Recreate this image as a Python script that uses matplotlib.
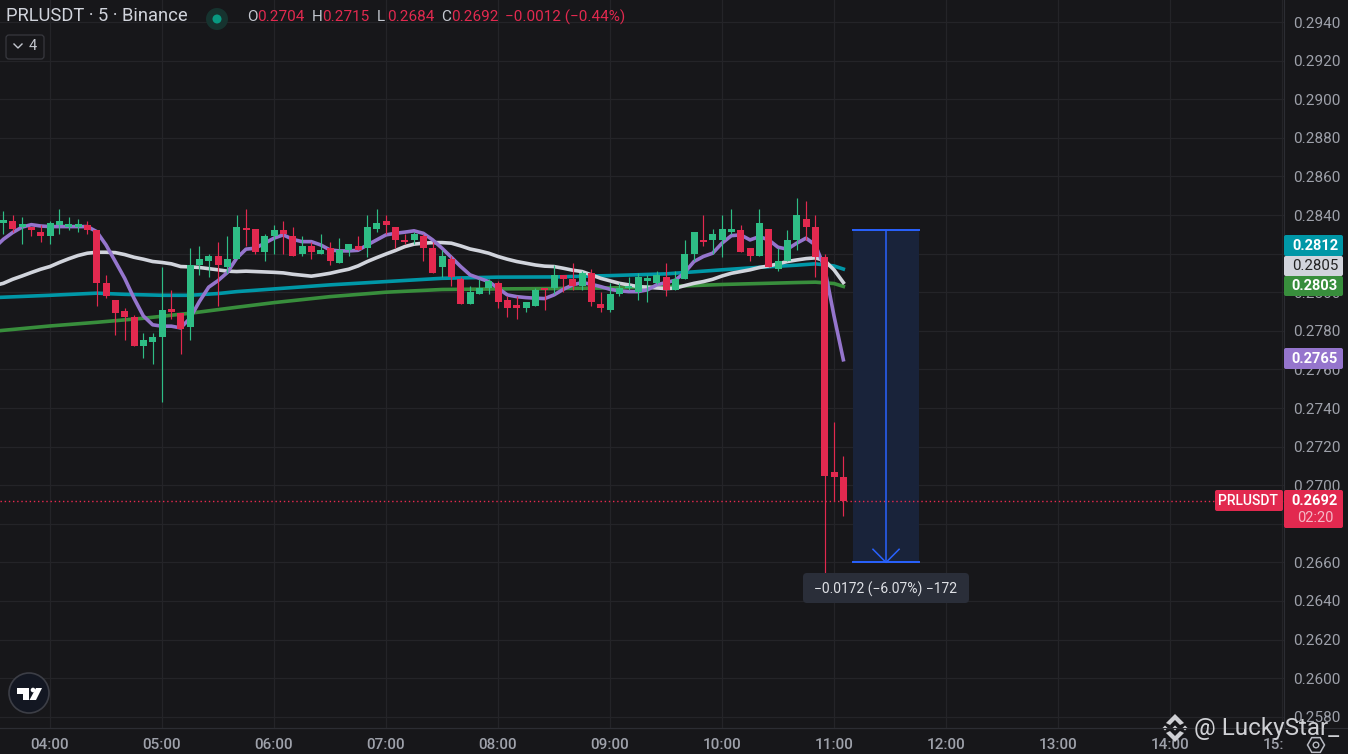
import matplotlib
matplotlib.use("Agg")
import matplotlib.pyplot as plt
from matplotlib.patches import Rectangle, FancyBboxPatch, Circle, Polygon, RegularPolygon
from matplotlib.transforms import Bbox

# 5 minute candles, index 0 is the 04:00 candle
first_idx = -5
opens = [.2836,.2837,.2834,.2834,.2831,.2829,.2835,.2834,.2834,.2835,.2832,.2805,.2796,.2790,.2787,.2772,.2774,.2777,.2791,.2789,
         .2782,.2814,.2816,.2819,.2813,.2817,.2833,.2833,.2821,.2829,.2832,.2829,.2820,.2824,.2820,.2823,.2815,.2822,.2824,.2823,
         .2833,.2837,.2834,.2827,.2827,.2829,.2823,.2813,.2817,.2807,.2794,.2799,.2802,.2805,.2796,.2793,.2792,.2793,.2802,.2802,
         .2809,.2807,.2803,.2810,.2794,.2791,.2799,.2802,.2800,.2806,.2805,.2808,.2801,.2807,.2820,.2827,.2827,.2827,.2831,.2832,
         .2823,.2819,.2833,.2812,.2816,.2827,.2838,.2834,.2818,.2707,.2704]
highs = [.2842,.2840,.2839,.2834,.2835,.2837,.2843,.2839,.2838,.2837,.2832,.2809,.2796,.2792,.2788,.2779,.2779,.2813,.2801,.2789,
         .2823,.2824,.2820,.2826,.2829,.2840,.2843,.2833,.2830,.2835,.2837,.2834,.2829,.2826,.2830,.2826,.2828,.2825,.2829,.2840,
         .2843,.2840,.2834,.2830,.2831,.2830,.2826,.2822,.2819,.2808,.2803,.2807,.2807,.2806,.2798,.2798,.2795,.2802,.2802,.2814,
         .2809,.2815,.2811,.2812,.2800,.2805,.2805,.2808,.2810,.2809,.2811,.2815,.2811,.2827,.2831,.2840,.2833,.2840,.2843,.2835,
         .2823,.2843,.2833,.2823,.2832,.2849,.2847,.2840,.2820,.2733,.2715]
lows = [.2830,.2831,.2825,.2829,.2826,.2825,.2830,.2832,.2831,.2830,.2793,.2797,.2778,.2775,.2772,.2766,.2763,.2743,.2786,.2768,
        .2775,.2809,.2808,.2793,.2810,.2817,.2824,.2820,.2816,.2820,.2820,.2819,.2819,.2817,.2820,.2814,.2815,.2819,.2822,.2818,
        .2831,.2830,.2823,.2825,.2825,.2816,.2810,.2808,.2803,.2794,.2794,.2799,.2799,.2792,.2787,.2786,.2790,.2793,.2791,.2799,
        .2800,.2801,.2801,.2793,.2790,.2790,.2798,.2801,.2796,.2795,.2804,.2798,.2801,.2807,.2816,.2824,.2820,.2818,.2830,.2821,
        .2816,.2819,.2813,.2811,.2816,.2822,.2827,.2808,.2651,.2692,.2684]
closes = [.2837,.2833,.2834,.2832,.2829,.2836,.2837,.2835,.2835,.2832,.2805,.2798,.2789,.2787,.2772,.2775,.2777,.2791,.2790,.2781,
          .2814,.2817,.2819,.2814,.2817,.2834,.2832,.2821,.2829,.2832,.2830,.2819,.2824,.2821,.2822,.2816,.2822,.2825,.2822,.2834,
          .2836,.2835,.2827,.2826,.2830,.2823,.2810,.2819,.2808,.2794,.2800,.2802,.2806,.2795,.2792,.2792,.2795,.2801,.2801,.2809,
          .2807,.2803,.2810,.2795,.2792,.2799,.2802,.2803,.2808,.2806,.2809,.2801,.2807,.2820,.2831,.2826,.2830,.2833,.2833,.2821,
          .2819,.2836,.2813,.2816,.2827,.2840,.2834,.2818,.2705,.2704,.2692]

# short moving average, one value per candle from index -6
ma_purple = [.28228,.28274,.28309,.28337,.28350,.28343,.28340,.28340,.28340,.28340,.28340,.28314,.28245,.28159,.28072,.27969,
             .27877,.27831,.27824,.27824,.27815,.27865,.27951,.28026,.28060,.28102,.28176,.28223,.28228,.28254,.28280,.28297,
             .28274,.28262,.28262,.28245,.28219,.28214,.28214,.28217,.28245,.28271,.28297,.28305,.28311,.28318,.28305,.28271,
             .28228,.28181,.28133,.28090,.28072,.28055,.28021,.27986,.27977,.27972,.27969,.27967,.27986,.28015,.28038,.28050,
             .28041,.28029,.28015,.28007,.28003,.28003,.28012,.28038,.28050,.28062,.28102,.28159,.28185,.28202,.28254,.28293,
             .28297,.28271,.28288,.28271,.28233,.28223,.28254,.28280,.28245,.28125,.27877,.27650]
ma_white = [.28034,.28046,.28067,.28084,.28102,.28119,.28133,.28154,.28173,.28190,.28202,.28207,.28207,.28205,.28195,.28181,
            .28171,.28159,.28154,.28147,.28133,.28131,.28128,.28122,.28116,.28109,.28107,.28109,.28107,.28105,.28103,.28100,
            .28093,.28088,.28083,.28090,.28098,.28109,.28119,.28136,.28159,.28179,.28198,.28216,.28236,.28249,.28254,.28257,
            .28257,.28254,.28240,.28224,.28214,.28202,.28185,.28171,.28159,.28150,.28141,.28135,.28133,.28124,.28114,.28107,
            .28090,.28072,.28059,.28046,.28038,.28029,.28026,.28022,.28019,.28021,.28034,.28046,.28055,.28067,.28084,.28098,
            .28107,.28116,.28128,.28136,.28147,.28159,.28167,.28174,.28178,.28164,.28116,.28050]

# the two slow averages are smooth, so a few readings are enough
ma_teal_idx = [-6,0,5,8,12,15,18,20,24,30,36,42,48,54,60,66,72,76,80,82,84,85]
ma_teal = [.27972,.27984,.27995,.27989,.27984,.27984,.27993,.28003,.28017,.28038,.28055,.28072,.28078,.28079,.28086,.28095,
           .28116,.28129,.28140,.28147,.28136,.28120]
ma_green_idx = [-6,0,5,10,15,20,24,30,36,42,48,54,60,66,72,76,80,82,84,85]
ma_green = [.27798,.27825,.27844,.27865,.27891,.27922,.27946,.27977,.28000,.28014,.28017,.28019,.28022,.28029,.28040,.28045,
            .28050,.28052,.28045,.28030]

hour_labels = ["04:00","05:00","06:00","07:00","08:00","09:00","10:00","11:00","12:00","13:00","14:00","15:00"]
price_ticks = [.2580,.2600,.2620,.2640,.2660,.2680,.2700,.2720,.2740,.2760,.2780,.2800,.2820,.2840,.2860,.2880,.2900,.2920,.2940]
hidden_tick = .2680  # sits behind the last price tag
last_price = .2692
measure_top = .2832
measure_bottom = .2660
measure_left = 86.05
measure_right = 93.1

BG = "#17171a"
GRID = "#242428"
AXIS = "#2c2d33"
RED = "#e2294f"
GREEN = "#2ebd85"
TEXT = "#9ea1aa"
FONT = "Roboto"
plt.rcParams["font.family"] = FONT

W, H = 1348, 754
fig = plt.figure(figsize=(W / 100, H / 100), dpi=100, facecolor=BG)
ax = fig.add_axes([0, (H - 728) / H, 1284 / W, 728 / H], facecolor=BG)

# 112 px per hour, 12 candles per hour; 19300 px per unit of price
ax.set_xlim(-50 / (112 / 12), (1284 - 50) / (112 / 12))
ax.set_ylim(.2840 - (728 - 215) / 19300, .2840 + 215 / 19300)

for s in ["top", "left"]:
    ax.spines[s].set_visible(False)
for s in ["right", "bottom"]:
    ax.spines[s].set_color(AXIS)
    ax.spines[s].set_linewidth(0.8)

ax.yaxis.tick_right()
ax.set_yticks(price_ticks)
ax.set_yticklabels(["" if p == hidden_tick else "%.4f" % p for p in price_ticks])
ax.set_xticks(range(0, 144, 12))
ax.set_xticklabels(hour_labels)
ax.tick_params(axis="both", length=0, colors=TEXT, labelsize=11)
ax.tick_params(axis="y", pad=6.5)
ax.tick_params(axis="x", pad=7.5)
for t in ax.get_xticklabels():
    t.set_fontweight("medium")
ax.grid(True, color=GRID, linewidth=0.9)
ax.set_axisbelow(True)

# 15:00 is cut off by the price scale
lab = ax.get_xticklabels()[-1]
lab.set_clip_on(True)
lab.set_clip_box(Bbox([[0, 0], [1284, H]]))

idx = [first_idx + i for i in range(len(opens))]
colors = [GREEN if c >= o else RED for o, c in zip(opens, closes)]

ax.axhline(last_price, color="#e8294f", linewidth=1.0, linestyle=(0, (1, 2)), zorder=1.5)

ax.plot(ma_green_idx, ma_green, color="#388e3c", linewidth=2.6, zorder=2)
ax.plot(ma_teal_idx, ma_teal, color="#0097a7", linewidth=2.6, zorder=2.1)
ma_idx = [first_idx - 1 + i for i in range(len(ma_white))]
ax.plot(ma_idx, ma_white, color="#d1d4dc", linewidth=2.6, zorder=2.2)
ax.plot(ma_idx, ma_purple, color="#9575cd", linewidth=2.6, zorder=2.3)

ax.vlines(idx, lows, highs, colors=colors, linewidth=0.85, zorder=3)
bottoms = [min(o, c) for o, c in zip(opens, closes)]
heights = [max(abs(o - c), .00012) for o, c in zip(opens, closes)]
ax.bar(idx, heights, bottom=bottoms, width=0.75, color=colors, linewidth=0, zorder=3.1)

# price range tool
mid = (measure_left + measure_right) / 2
ax.add_patch(Rectangle((measure_left, measure_bottom), measure_right - measure_left, measure_top - measure_bottom,
                       facecolor="#19233a", edgecolor="none", zorder=1))
ax.plot([measure_left, measure_right], [measure_top] * 2, color="#2962ff", linewidth=1.4, zorder=4)
ax.plot([measure_left, measure_right], [measure_bottom] * 2, color="#2962ff", linewidth=1.4, zorder=4)
ax.plot([mid, mid], [measure_top, measure_bottom], color="#2962ff", linewidth=1.1, zorder=4)
ax.plot([mid - 1.4, mid, mid + 1.4], [measure_bottom + .00068, measure_bottom, measure_bottom + .00068],
        color="#2962ff", linewidth=1.1, zorder=4)

# everything that is not chart data goes on a pixel layer
ui = fig.add_axes([0, 0, 1, 1], facecolor="none", zorder=5)
ui.set_xlim(0, W)
ui.set_ylim(H, 0)
ui.axis("off")


def tag(x0, y0, x1, y1, color):
    ui.add_patch(FancyBboxPatch((x0 + 1, y0 + 1), x1 - x0 - 2, y1 - y0 - 2, boxstyle="round,pad=1,rounding_size=2",
                                facecolor=color, edgecolor="none"))


ui.plot([0, W], [728, 728], color=AXIS, linewidth=0.8)

tag(1284, 235, 1343, 256, "#0097a7")
tag(1284, 256, 1343, 276, "#d1d4dc")
tag(1284, 276, 1343, 296, "#388e3c")
tag(1284, 348, 1343, 369, "#9575cd")
tag(1284, 490, 1343, 528, RED)
tag(1215, 490, 1283, 511, RED)
tag_font = dict(fontsize=10.5, fontweight="bold", ha="center", va="center")
ui.text(1315, 246, "%.4f" % ma_teal[-1], color="white", **tag_font)
ui.text(1315, 266, "%.4f" % ma_white[-1], color="#222", fontsize=10.8, ha="center", va="center")
ui.text(1315, 286, "%.4f" % ma_green[-1], color="white", **tag_font)
ui.text(1315, 359, "%.4f" % ma_purple[-1], color="white", **tag_font)
ui.text(1315, 501, "%.4f" % last_price, color="white", **tag_font)
ui.text(1315, 518, "02:20", color="#f5b8c6", fontsize=10.5, ha="center", va="center")
ui.text(1248, 501, "PRLUSDT", color="white", fontsize=10, fontweight="medium", ha="center", va="center")

# header
ui.text(6, 16, "PRLUSDT · 5 · Binance", color="#d1d4dc", fontsize=13.2, va="center")
ui.add_patch(Circle((217, 19), 11, facecolor="#16332f", edgecolor="none"))
ui.add_patch(Circle((217, 19), 4.5, facecolor="#089981", edgecolor="none"))
ohlc_x = [247, 312, 377, 441]
ohlc_names = ["O", "H", "L", "C"]
ohlc_vals = [opens[-1], highs[-1], lows[-1], closes[-1]]
for x, n, v in zip(ohlc_x, ohlc_names, ohlc_vals):
    ui.text(x, 17, n, color="#c4c7cf", fontsize=11, va="center")
    ui.text(x + 10, 17, "%.4f" % v, color=RED, fontsize=11, va="center")
ui.text(505, 17, "−0.0012 (−0.44%)", color=RED, fontsize=11, va="center")

ui.add_patch(FancyBboxPatch((8, 37), 34, 20, boxstyle="round,pad=2,rounding_size=3", facecolor="none", edgecolor="#37383e", linewidth=0.9))
ui.plot([14, 18, 22], [44, 48, 44], color="#c4c7cf", linewidth=1)
ui.text(33, 46, "4", color="#c4c7cf", fontsize=10.5, ha="center", va="center")

# measure label
ui.add_patch(FancyBboxPatch((806, 576), 160, 24, boxstyle="round,pad=3,rounding_size=4", facecolor="#2a2e39", edgecolor="none"))
ui.text(886, 589, "−0.0172 (−6.07%) −172", color="#dfe1e6", fontsize=10, ha="center", va="center")

# TradingView badge
ui.add_patch(Circle((29, 693), 20, facecolor="#131722", edgecolor="#3c3e46", linewidth=1.2))
ui.add_patch(Polygon([(17, 688), (29, 688), (29, 700), (23, 700), (23, 694), (17, 694)], facecolor="white", edgecolor="none"))
ui.add_patch(Circle((33, 690), 2.3, facecolor="white", edgecolor="none"))
ui.add_patch(Polygon([(36, 688), (42, 688), (36, 700), (29.5, 700)], facecolor="white", edgecolor="none"))

# watermark and scale settings icon
WM = "#cfd0d4"
for cx, cy, r in [(1175, 728, 2.5), (1165, 728, 2.5), (1185, 728, 2.5)]:
    ui.add_patch(RegularPolygon((cx, cy), 4, radius=r, facecolor=WM, edgecolor="none"))
ui.add_patch(Polygon([(1175, 714), (1184, 723), (1180, 725), (1175, 720), (1170, 725), (1166, 723)], facecolor=WM, edgecolor="none"))
ui.add_patch(Polygon([(1175, 742), (1184, 733), (1180, 731), (1175, 736), (1170, 731), (1166, 733)], facecolor=WM, edgecolor="none"))
ui.text(1194, 728, "@ LuckyStar_", color=WM, fontsize=17.5, va="center")
ui.add_patch(RegularPolygon((1316, 745), 6, radius=8.5, orientation=0.5236, facecolor="none", edgecolor="#b8bac2", linewidth=1.1))
ui.add_patch(Circle((1316, 745), 2.8, facecolor="none", edgecolor="#b8bac2", linewidth=1))

fig.savefig("out.png", dpi=100, facecolor=BG)
